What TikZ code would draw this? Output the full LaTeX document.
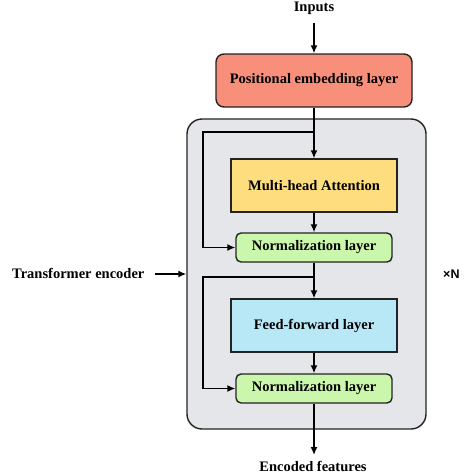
\documentclass[tikz,border=0pt]{standalone}
\usepackage{fontspec}
\setmainfont{Liberation Serif}
\newfontfamily\sansf{Liberation Sans}
\usetikzlibrary{arrows.meta}
\definecolor{salmon}{RGB}{248,143,122}
\definecolor{yel}{RGB}{253,221,125}
\definecolor{grn}{RGB}{202,247,172}
\definecolor{blu}{RGB}{184,232,246}
\definecolor{cont}{RGB}{229,230,233}
\definecolor{edge}{RGB}{35,35,35}
\tikzset{
  arr/.style={-{Latex[length=8pt,width=7pt]}, line width=1.4pt, draw=black},
  boxbase/.style={draw=edge, line width=1.4pt, inner sep=0pt, font=\bfseries\fontsize{14.5}{16}\selectfont, text=black},
  posbox/.style={boxbase, fill=salmon, rounded corners=8pt, minimum width=196pt, minimum height=53pt},
  bigbox/.style={boxbase, minimum width=166pt, minimum height=53pt},
  normbox/.style={boxbase, fill=grn, rounded corners=5pt, minimum width=156pt, minimum height=29pt},
  lbl/.style={font=\bfseries\fontsize{14.5}{16}\selectfont, inner sep=0pt},
}
\begin{document}
\begin{tikzpicture}[x=1pt,y=-1pt]
\useasboundingbox (0,0) rectangle (474,474);
\node[draw=edge, line width=1.4pt, fill=cont, rounded corners=15pt, minimum width=239pt, minimum height=310pt, inner sep=0pt] (container) at (306.5,274) {};
\node[lbl] (inputs) at (314,8.5) {Inputs};
\node[posbox] (pos) at (314,80.5) {Positional embedding layer};
\node[bigbox, fill=yel] (mha) at (314,185.5) {Multi-head Attention};
\node[normbox] (norm1) at (314,247.5) {Normalization layer};
\node[bigbox, fill=blu] (ff) at (314,325.5) {Feed-forward layer};
\node[normbox] (norm2) at (314,388.5) {Normalization layer};
\node[lbl] (enc) at (313,466) {Encoded features};
\node[lbl, anchor=west] (tenc) at (12,273) {Transformer encoder};
\node[font=\sansf\bfseries\fontsize{12.5}{14}\selectfont, anchor=west, inner sep=0pt] (xn) at (443,274) {×N};
\coordinate (s1) at (314,132);
\coordinate (b1) at (203,132);
\coordinate (s2) at (314,277);
\coordinate (b2) at (203,277);
\coordinate (encend) at (314,455);
\draw[arr] (314,23) -- (pos.north);
\draw[arr] (pos.south) -- (mha.north);
\draw[arr] (s1) -- (b1) |- (norm1.west);
\draw[arr] (mha.south) -- (norm1.north);
\draw[arr] (norm1.south) -- (ff.north);
\draw[arr] (s2) -- (b2) |- (norm2.west);
\draw[arr] (ff.south) -- (norm2.north);
\draw[arr] (norm2.south) -- (encend);
\draw[arr] (155,274) -- (container.west);
\end{tikzpicture}
\end{document}
